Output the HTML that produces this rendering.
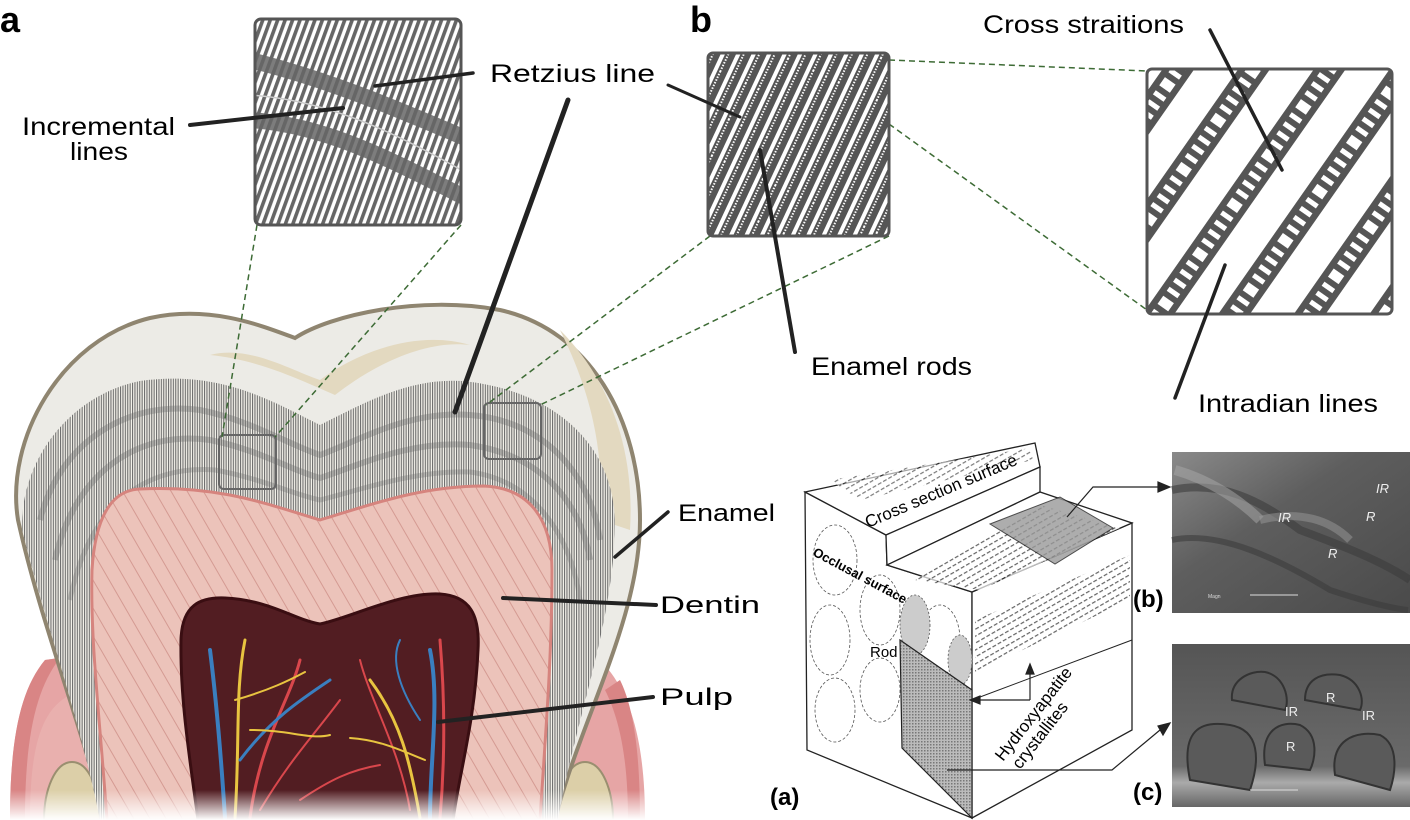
<!DOCTYPE html>
<html><head><meta charset="utf-8"><style>
html,body{margin:0;padding:0;background:#fff;width:1410px;height:820px;overflow:hidden;}
svg{display:block;}
text{font-family:"Liberation Sans",sans-serif;}
</style></head><body>
<svg width="1410" height="820" viewBox="0 0 1410 820" xmlns="http://www.w3.org/2000/svg">
<defs>
  <pattern id="pa" patternUnits="userSpaceOnUse" width="7" height="40" patternTransform="rotate(20)">
    <rect width="7" height="40" fill="#fff"/><rect width="3.6" height="40" fill="#666"/>
  </pattern>
  <pattern id="pb" patternUnits="userSpaceOnUse" width="14" height="40" patternTransform="rotate(25)">
    <rect width="14" height="40" fill="#555"/><rect x="4" width="4" height="40" fill="#fff"/>
    <line x1="11" y1="0" x2="11" y2="40" stroke="#fff" stroke-width="2" stroke-dasharray="1.5 1.5"/>
  </pattern>
  <pattern id="pc" patternUnits="userSpaceOnUse" width="62" height="60" patternTransform="rotate(35)">
    <rect width="62" height="60" fill="#fff"/><rect width="26" height="60" fill="#555"/>
    <line x1="13" y1="0" x2="13" y2="60" stroke="#fff" stroke-width="13" stroke-dasharray="5 6"/>
  </pattern>
  <pattern id="pe" patternUnits="userSpaceOnUse" width="2.4" height="20">
    <rect width="2.4" height="20" fill="#f4f2ea"/><rect width="1.1" height="20" fill="#6d6d6d"/>
  </pattern>
  <pattern id="pd" patternUnits="userSpaceOnUse" width="14" height="40" patternTransform="rotate(-30)">
    <rect width="14" height="40" fill="#ecc3ba"/><rect width="1" height="40" fill="#d49a92"/>
  </pattern>
  <pattern id="hatch" patternUnits="userSpaceOnUse" width="6" height="6" patternTransform="rotate(60)">
    <rect width="6" height="6" fill="#fff"/><rect width="1.2" height="4" fill="#222"/>
  </pattern>
  <pattern id="cross" patternUnits="userSpaceOnUse" width="3" height="3">
    <rect width="3" height="3" fill="#bbb"/><rect width="1.5" height="1.5" fill="#777"/>
  </pattern>
  <linearGradient id="semb" x1="0" y1="0" x2="1" y2="1">
    <stop offset="0" stop-color="#8a8a8a"/><stop offset="0.4" stop-color="#5e5e5e"/><stop offset="1" stop-color="#4a4a4a"/>
  </linearGradient>
  <linearGradient id="semc" x1="0" y1="0" x2="0" y2="1">
    <stop offset="0" stop-color="#555"/><stop offset="0.75" stop-color="#6a6a6a"/><stop offset="0.85" stop-color="#aaa"/><stop offset="1" stop-color="#666"/>
  </linearGradient>
  <linearGradient id="fade" x1="0" y1="0" x2="0" y2="1">
    <stop offset="0" stop-color="#fff" stop-opacity="0"/><stop offset="1" stop-color="#fff"/>
  </linearGradient>
  <clipPath id="cpa"><rect x="255" y="19" width="206" height="206" rx="6"/></clipPath>
</defs>

<!-- gums -->
<path d="M10,820 C10,740 20,690 45,660 L110,650 L110,820 Z" fill="#e6a5a5"/>
<path d="M30,820 C30,750 40,710 70,695 L105,690 L105,820 Z" fill="#e9b0ae"/>
<path d="M10,820 C10,740 20,690 45,660 L60,658 C35,690 25,740 25,820Z" fill="#d98585"/>
<path d="M540,650 L600,660 C630,690 645,740 645,820 L540,820 Z" fill="#e6a5a5"/>
<path d="M620,680 C635,710 640,760 640,820 L628,820 C628,760 620,720 605,690Z" fill="#d98585"/>
<path d="M44,820 C44,790 55,762 72,762 C89,762 100,790 100,820 Z" fill="#dccfa8" stroke="#9a8f70" stroke-width="2"/>
<path d="M557,820 C557,790 568,762 585,762 C602,762 613,790 613,820 Z" fill="#dccfa8" stroke="#9a8f70" stroke-width="2"/>

<!-- tooth outer crown -->
<path d="M105,820 C80,720 40,620 18,520 C5,440 60,340 150,318 C210,305 260,325 295,338 C330,315 420,295 500,310 C590,330 640,420 640,520 C640,620 580,720 555,820 Z" fill="#ecebe6" stroke="#8f8570" stroke-width="4"/>
<path d="M210,355 C250,345 290,370 320,380 C360,350 420,330 470,345 C430,340 380,360 335,395 C300,380 260,360 210,355Z" fill="#e3d9c0"/>
<path d="M560,330 C610,380 635,450 630,530 L600,520 C605,450 590,390 560,330Z" fill="#e3d9c0"/>
<!-- enamel striped band -->
<path d="M100,820 C80,720 45,620 22,530 C20,460 70,395 140,381 C220,370 270,400 320,425 C370,400 410,378 463,381 C550,390 612,440 615,520 C615,620 575,720 558,820 Z" fill="url(#pe)"/>
<path d="M40,520 C60,440 130,400 200,410 C250,420 290,445 320,455 C360,440 410,410 470,415 C540,420 590,470 600,540" fill="none" stroke="#666" stroke-width="6" opacity="0.35"/>
<path d="M55,560 C75,470 140,430 210,440 C260,450 290,470 320,478 C360,465 410,440 470,445 C540,455 580,500 590,560" fill="none" stroke="#666" stroke-width="6" opacity="0.35"/>
<path d="M70,600 C90,500 150,465 215,470 C260,478 295,495 320,500 C360,490 415,470 470,472 C530,480 570,530 580,600" fill="none" stroke="#666" stroke-width="5" opacity="0.3"/>
<!-- dentin -->
<path d="M107,820 C100,720 90,640 92,570 C95,520 110,490 140,489 C220,485 270,505 320,520 C370,505 420,486 484,486 C530,488 552,520 552,570 C552,660 545,740 540,820 Z" fill="url(#pd)" stroke="#d6847e" stroke-width="3"/>
<!-- pulp -->
<path d="M198,820 C190,760 180,700 181,640 C182,605 200,597 225,598 C270,600 295,620 320,624 C350,618 400,592 440,594 C470,596 480,615 478,650 C475,720 460,770 453,820 Z" fill="#521d22" stroke="#3a0e12" stroke-width="3"/>
<g fill="none" stroke-linecap="round">
<path d="M225,818 C220,740 215,690 210,650" stroke="#3a7fc0" stroke-width="4"/>
<path d="M235,818 C240,740 235,690 245,640" stroke="#e8c440" stroke-width="3"/>
<path d="M250,818 C260,740 290,700 300,660" stroke="#d9474c" stroke-width="3"/>
<path d="M240,760 C270,720 300,700 330,680" stroke="#3a7fc0" stroke-width="3"/>
<path d="M235,700 C270,690 290,680 305,672" stroke="#e8c440" stroke-width="2"/>
<path d="M260,810 C290,760 310,740 340,700" stroke="#d9474c" stroke-width="2"/>
<path d="M250,730 C290,730 310,740 330,735" stroke="#e8c440" stroke-width="2"/>
<path d="M420,818 C410,760 400,720 370,680" stroke="#e8c440" stroke-width="3"/>
<path d="M430,818 C430,760 440,700 430,650" stroke="#3a7fc0" stroke-width="4"/>
<path d="M440,818 C445,760 445,700 440,640" stroke="#d9474c" stroke-width="3"/>
<path d="M410,810 C400,750 370,700 360,660" stroke="#d9474c" stroke-width="2"/>
<path d="M420,720 C400,690 390,660 400,640" stroke="#3a7fc0" stroke-width="2"/>
<path d="M425,760 C400,750 380,740 350,738" stroke="#e8c440" stroke-width="2"/>
<path d="M300,800 C330,780 350,770 380,765" stroke="#d9474c" stroke-width="2"/>
</g>
<rect x="0" y="790" width="660" height="30" fill="url(#fade)"/>
<!-- small boxes -->
<rect x="219" y="435" width="57" height="54" rx="5" fill="none" stroke="#666" stroke-width="2"/>
<rect x="484" y="403" width="57" height="56" rx="5" fill="none" stroke="#666" stroke-width="2"/>

<!-- dashed connectors -->
<g stroke="#3d6b35" stroke-width="1.5" stroke-dasharray="6 4" fill="none">
<line x1="257" y1="225" x2="222" y2="437"/>
<line x1="461" y1="225" x2="275" y2="437"/>
<line x1="710" y1="236" x2="486" y2="405"/>
<line x1="889" y1="236" x2="540" y2="405"/>
<line x1="889" y1="60" x2="1147" y2="71"/>
<line x1="889" y1="124" x2="1147" y2="310"/>
</g>

<!-- inset a -->
<g clip-path="url(#cpa)">
<rect x="255" y="19" width="206" height="206" fill="url(#pa)"/>
<path d="M250,60 C330,80 400,110 470,140" stroke="#666" stroke-width="16" fill="none" opacity="0.85"/>
<path d="M250,120 C330,125 400,165 470,200" stroke="#666" stroke-width="16" fill="none" opacity="0.85"/>
<path d="M250,95 C330,100 400,135 470,175" stroke="#ccc" stroke-width="1.5" fill="none"/>
</g>
<rect x="255" y="19" width="206" height="206" rx="6" fill="none" stroke="#555" stroke-width="3"/>

<!-- inset b -->
<rect x="708" y="53" width="181" height="183" rx="5" fill="url(#pb)" stroke="#555" stroke-width="3"/>
<!-- inset big -->
<rect x="1147" y="69" width="245" height="245" rx="5" fill="url(#pc)" stroke="#555" stroke-width="3"/>

<!-- leader lines -->
<g stroke="#222" stroke-linecap="round" fill="none">
<line x1="190" y1="125" x2="343" y2="108" stroke-width="4"/>
<line x1="473" y1="73" x2="375" y2="86" stroke-width="3.5"/>
<line x1="568" y1="100" x2="455" y2="412" stroke-width="5"/>
<line x1="668" y1="85" x2="740" y2="117" stroke-width="3"/>
<line x1="795" y1="352" x2="760" y2="150" stroke-width="4"/>
<line x1="1210" y1="30" x2="1282" y2="170" stroke-width="3.5"/>
<line x1="1175" y1="398" x2="1225" y2="265" stroke-width="3.5"/>
<line x1="668" y1="512" x2="615" y2="557" stroke-width="3.5"/>
<line x1="656" y1="605" x2="503" y2="598" stroke-width="4"/>
<line x1="653" y1="697" x2="438" y2="722" stroke-width="4"/>
</g>

<!-- labels -->
<text x="0" y="32" font-size="36" font-weight="bold">a</text>
<text x="690" y="32" font-size="36" font-weight="bold">b</text>
<text x="22" y="135" font-size="25" textLength="153" lengthAdjust="spacingAndGlyphs">Incremental</text>
<text x="70" y="160" font-size="25" textLength="58" lengthAdjust="spacingAndGlyphs">lines</text>
<text x="490" y="82" font-size="25" textLength="165" lengthAdjust="spacingAndGlyphs">Retzius line</text>
<text x="983" y="33" font-size="25" textLength="201" lengthAdjust="spacingAndGlyphs">Cross straitions</text>
<text x="811" y="375" font-size="25" textLength="161" lengthAdjust="spacingAndGlyphs">Enamel rods</text>
<text x="1198" y="412" font-size="25" textLength="180" lengthAdjust="spacingAndGlyphs">Intradian lines</text>
<text x="678" y="521" font-size="24" textLength="97" lengthAdjust="spacingAndGlyphs">Enamel</text>
<text x="660" y="613" font-size="24" textLength="100" lengthAdjust="spacingAndGlyphs">Dentin</text>
<text x="660" y="705" font-size="24" textLength="73" lengthAdjust="spacingAndGlyphs">Pulp</text>

<!-- block diagram -->
<g stroke="#222" stroke-width="1.3">
<polygon points="805,492 886,535 887,565 972,592 972,818 807,750" fill="#fff"/>
<polygon points="972,592 1132,523 1132,730 972,818" fill="#fff"/>
<polygon points="805,492 1035,443 1040,467 886,535" fill="#fff"/>
<polygon points="886,535 1040,467 1040,492 887,565" fill="#fff"/>
<polygon points="887,565 1040,492 1132,523 972,592" fill="#fff"/>
</g>
<polygon points="830,480 1030,448 1033,460 860,500" fill="url(#hatch)" opacity="0.6"/>
<polygon points="915,580 1040,505 1120,528 980,590" fill="url(#hatch)" opacity="0.7"/>
<polygon points="975,620 1130,555 1130,600 975,672" fill="url(#hatch)" opacity="0.7"/>
<polygon points="990,524 1060,497 1113,528 1055,564" fill="#999" stroke="#222" stroke-width="1" opacity="0.8"/>
<g fill="none" stroke="#555" stroke-width="0.8" stroke-dasharray="3 2">
<ellipse cx="835" cy="560" rx="22" ry="35"/><ellipse cx="830" cy="640" rx="20" ry="35"/><ellipse cx="835" cy="710" rx="20" ry="32"/>
<ellipse cx="880" cy="610" rx="20" ry="35"/><ellipse cx="880" cy="690" rx="20" ry="32"/><ellipse cx="940" cy="640" rx="20" ry="35"/>
</g>
<ellipse cx="915" cy="625" rx="15" ry="30" fill="#ccc" stroke="#555" stroke-width="0.8" stroke-dasharray="2 2"/>
<ellipse cx="960" cy="660" rx="12" ry="25" fill="#ccc" stroke="#555" stroke-width="0.8" stroke-dasharray="2 2"/>
<polygon points="900,640 972,690 972,818 902,748" fill="url(#cross)" stroke="#222" stroke-width="1.2"/>
<line x1="972" y1="700" x2="1132" y2="640" stroke="#222" stroke-width="1"/>
<g stroke="#222" stroke-width="1.2" fill="none">
<polyline points="1030,700 1030,672"/><polygon points="1030,664 1026,674 1034,674" fill="#222"/>
<polyline points="1030,700 978,700"/><polygon points="970,700 980,696 980,704" fill="#222"/>
<polyline points="1067,517 1093,487 1160,487"/><polygon points="1170,487 1158,482 1158,492" fill="#222"/>
<polyline points="947,770 1112,770 1160,730"/><polygon points="1170,723 1158,726 1163,735" fill="#222"/>
</g>
<text x="0" y="0" font-size="17" transform="translate(868,528) rotate(-23)">Cross section surface</text>
<text x="0" y="0" font-size="13" font-weight="bold" transform="translate(812,555) rotate(28)">Occlusal surface</text>
<text x="870" y="657" font-size="15">Rod</text>
<text x="0" y="0" font-size="17" transform="translate(1003,762) rotate(-52)">Hydroxyapatite</text>
<text x="0" y="0" font-size="17" transform="translate(1020,770) rotate(-52)">crystallites</text>
<text x="770" y="805" font-size="24" font-weight="bold">(a)</text>
<text x="1133" y="607" font-size="24" font-weight="bold">(b)</text>
<text x="1133" y="800" font-size="24" font-weight="bold">(c)</text>

<!-- SEM images -->
<rect x="1172" y="452" width="238" height="161" fill="url(#semb)"/>
<path d="M1172,490 C1220,480 1260,500 1300,530 C1340,545 1380,560 1410,580" stroke="#3c3c3c" stroke-width="8" fill="none" opacity="0.6"/>
<path d="M1172,540 C1220,530 1280,560 1330,590 C1360,600 1390,608 1408,610" stroke="#3c3c3c" stroke-width="6" fill="none" opacity="0.6"/>
<path d="M1175,470 C1210,480 1240,500 1260,520" stroke="#aaa" stroke-width="10" fill="none" opacity="0.5"/>
<path d="M1260,520 C1300,510 1330,520 1350,540" stroke="#999" stroke-width="8" fill="none" opacity="0.5"/>
<g fill="#eee" font-size="13" font-style="italic">
<text x="1376" y="493">IR</text><text x="1278" y="522">IR</text><text x="1366" y="521">R</text><text x="1328" y="558">R</text>
</g>
<line x1="1250" y1="595" x2="1298" y2="595" stroke="#ddd" stroke-width="1"/>
<text x="1208" y="598" font-size="5" fill="#ddd">Magn</text>
<rect x="1172" y="644" width="238" height="163" fill="url(#semc)"/>
<g fill="#5a5a5a" stroke="#333" stroke-width="2">
<path d="M1190,780 C1180,730 1200,720 1230,725 C1260,730 1260,760 1250,790Z"/>
<path d="M1265,765 C1260,730 1280,720 1300,725 C1320,735 1315,760 1310,770Z"/>
<path d="M1335,775 C1330,740 1355,730 1380,735 C1400,745 1395,775 1390,790Z"/>
<path d="M1305,700 C1305,680 1320,672 1340,675 C1360,680 1365,700 1360,710Z"/>
<path d="M1232,700 C1230,680 1250,670 1265,672 C1285,676 1290,700 1285,710Z"/>
</g>
<g fill="#eee" font-size="13">
<text x="1326" y="702">R</text><text x="1285" y="716">IR</text><text x="1362" y="720">IR</text><text x="1286" y="751">R</text>
</g>
<line x1="1250" y1="790" x2="1298" y2="790" stroke="#ddd" stroke-width="1"/>
</svg>
</body></html>
